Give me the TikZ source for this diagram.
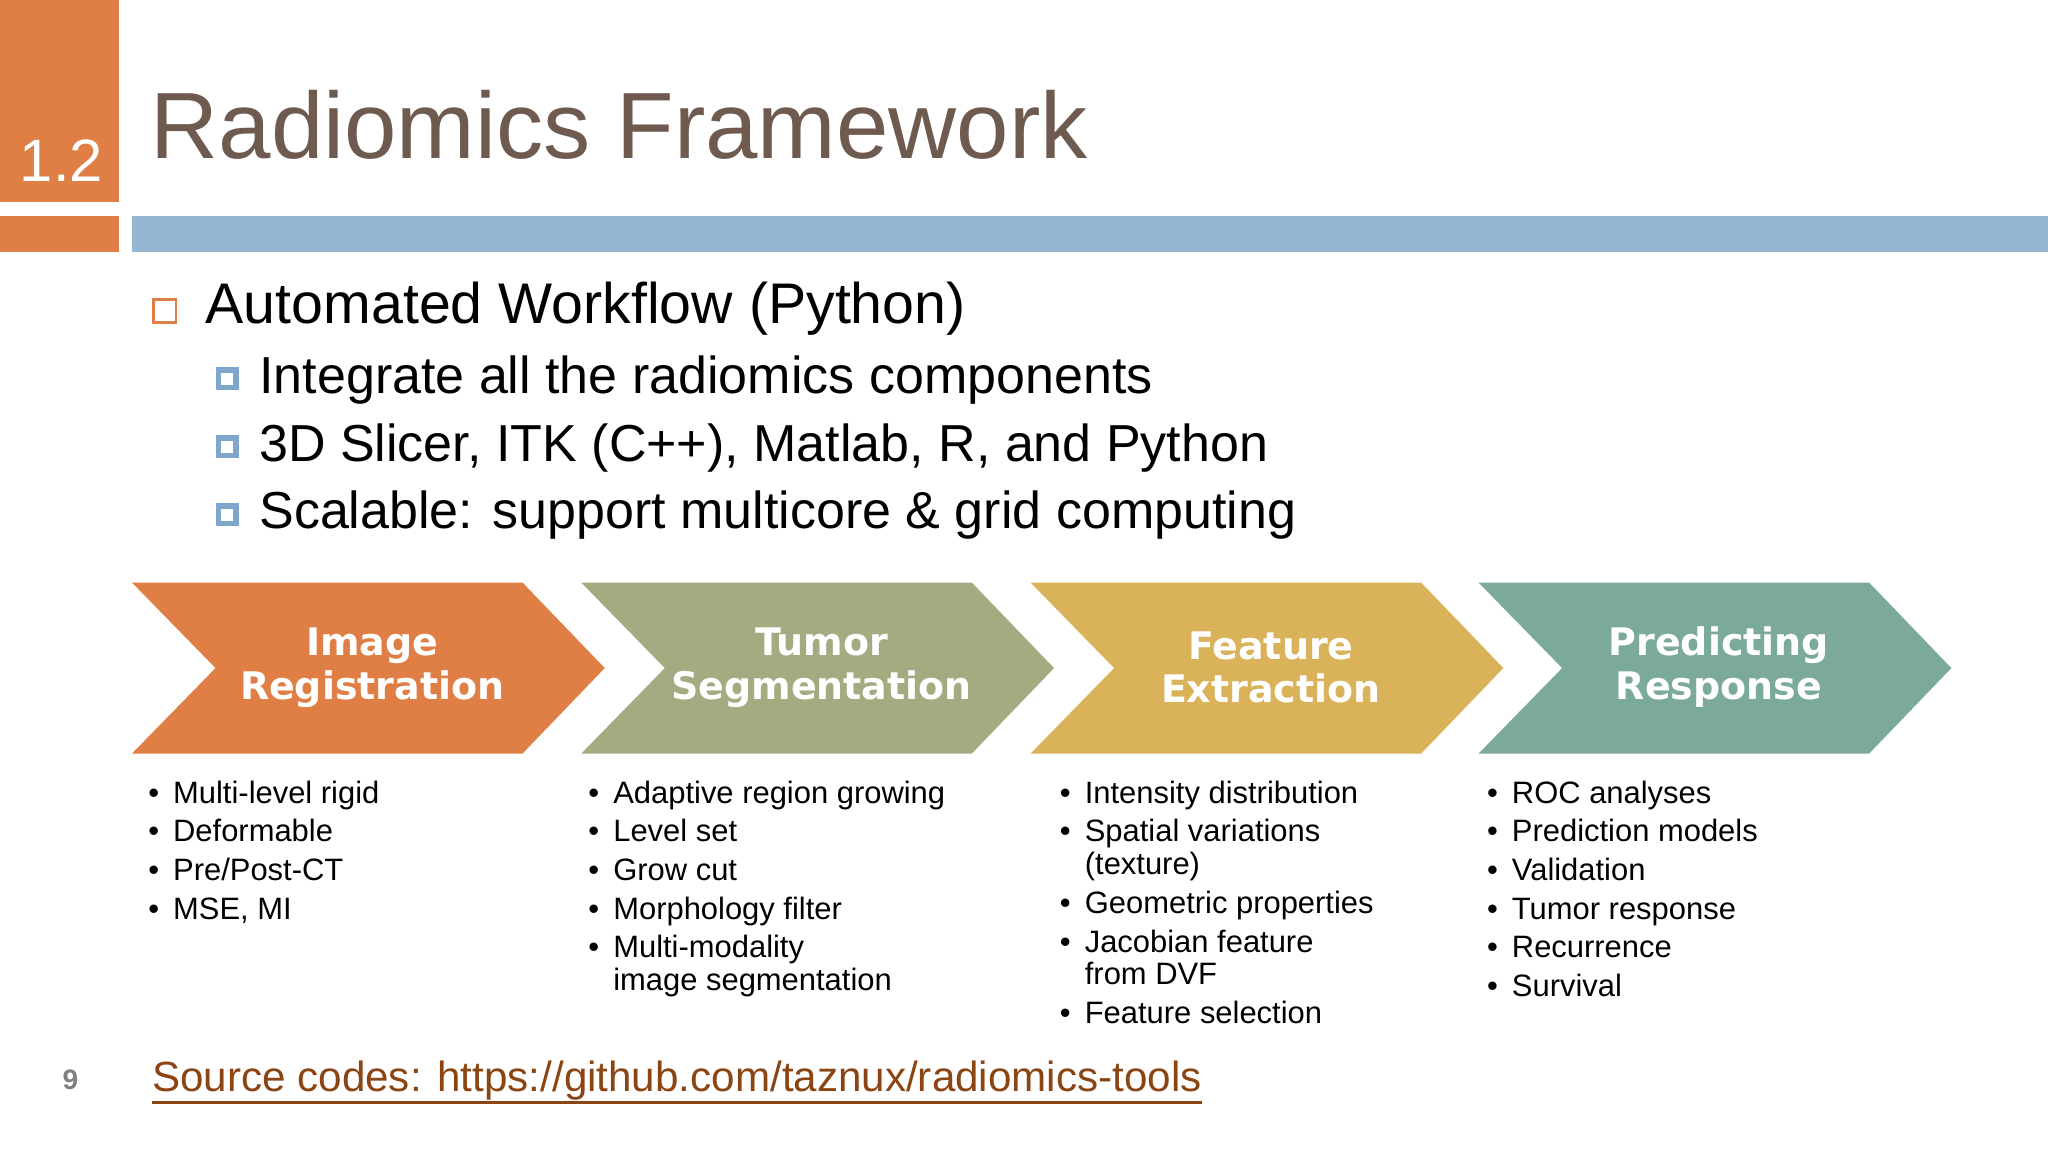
\documentclass[tikz,border=0pt]{standalone}
\usepackage{fontspec}
\setmainfont{Liberation Sans}
\newfontfamily\chevfont{DejaVu Sans}
\definecolor{orng}{HTML}{E07F45}
\definecolor{barblue}{HTML}{94B6D2}
\definecolor{ttl}{HTML}{6E5A4E}
\definecolor{olive}{HTML}{A3AB80}
\definecolor{gold}{HTML}{D9B25A}
\definecolor{teal}{HTML}{7BA99A}
\definecolor{sqblue}{HTML}{7FA7CC}
\definecolor{link}{HTML}{8B4513}
\begin{document}
\begin{tikzpicture}[x=0.013061cm,y=-0.013061cm,
  lst/.style={anchor=north west,align=left,font=\fontsize{8.8}{9.3}\selectfont,inner sep=0pt},
  chev/.style={text=white,font=\chevfont\bfseries\fontsize{10.8}{12.5}\selectfont,align=center},
  sub/.style={anchor=base west,inner sep=0pt,font=\fontsize{14.8}{18}\selectfont},
  sq/.style={draw=sqblue,line width=1.6pt,fill=white,minimum size=5pt,inner sep=0pt}]
\useasboundingbox (0,0) rectangle (1568,882);
\fill[white] (0,0) rectangle (1568,882);
\fill[orng] (0,0) rectangle (91,155);
\fill[orng] (0,165) rectangle (91,193);
\fill[barblue] (101,165) rectangle (1568,193);
\node[anchor=base,text=white,font=\fontsize{17}{20}\selectfont,inner sep=0pt] (num) at (47,139) {1.2};
\node[anchor=base west,text=ttl,font=\fontsize{26.8}{32}\selectfont,inner sep=0pt] (title) at (115,121) {Radiomics Framework};
\node[draw=orng,line width=0.8pt,minimum size=6.5pt,inner sep=0pt] (b0) at (126,238) {};
\node[anchor=base west,inner sep=0pt,font=\fontsize{16.3}{20}\selectfont] (t0) at (157,248) {Automated Workflow (Python)};
\node[sq] (s1) at (174,290) {};
\node[sub] (t1) at (198,301) {Integrate all the radiomics components};
\node[sq] (s2) at (174,342) {};
\node[sub] (t2) at (198,353) {3D Slicer, ITK (C++), Matlab, R, and Python};
\node[sq] (s3) at (174,394) {};
\node[sub] (t3) at (198,405) {Scalable: support multicore \& grid computing};
\foreach \x/\c in {101/orng,445/olive,789/gold,1132/teal}{
  \fill[\c] (\x,446) -- (\x+299,446) -- (\x+362,511.5) -- (\x+299,577) -- (\x,577) -- (\x+64,511.5) -- cycle;}
\node[chev] (c1) at (285,511) {Image\\Registration};
\node[chev] (c2) at (629,511) {Tumor\\Segmentation};
\node[chev] (c3) at (973,511) {Feature\\Extraction};
\node[chev] (c4) at (1316,511) {Predicting\\Response};
\def\g{\\[1.7pt]}
\node[lst] (l1) at (113,597) {\begin{tabular}{@{}l@{\hspace{4pt}}l@{}}
•&Multi-level rigid\g •&Deformable\g •&Pre/Post-CT\g •&MSE, MI\end{tabular}};
\node[lst] (l2) at (450,597) {\begin{tabular}{@{}l@{\hspace{4pt}}l@{}}
•&Adaptive region growing\g •&Level set\g •&Grow cut\g •&Morphology filter\g •&Multi-modality\\ &image segmentation\end{tabular}};
\node[lst] (l3) at (811,597) {\begin{tabular}{@{}l@{\hspace{4pt}}l@{}}
•&Intensity distribution\g •&Spatial variations\\ &(texture)\g •&Geometric properties\g •&Jacobian feature\\ &from DVF\g •&Feature selection\end{tabular}};
\node[lst] (l4) at (1138,597) {\begin{tabular}{@{}l@{\hspace{4pt}}l@{}}
•&ROC analyses\g •&Prediction models\g •&Validation\g •&Tumor response\g •&Recurrence\g •&Survival\end{tabular}};
\node[anchor=base,text=gray,font=\bfseries\fontsize{8}{9}\selectfont,inner sep=0pt] (pg) at (54,834) {9};
\node[anchor=base west,text=link,font=\fontsize{12}{14}\selectfont,inner sep=0pt] (src) at (116,836) {Source codes: https://github.com/taznux/radiomics-tools};
\draw[link,line width=0.7pt] ([yshift=-3]src.base west) -- ([yshift=-3]src.base east);
\end{tikzpicture}
\end{document}
